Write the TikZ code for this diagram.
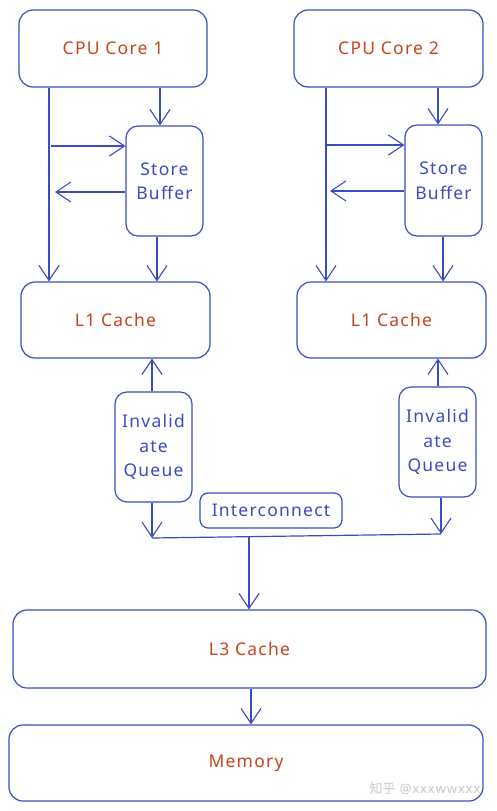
\documentclass[tikz,border=0pt]{standalone}
\usepackage{fontspec}
\setmainfont{Noto Sans}[LetterSpace=7]
\newfontfamily\cjk{Noto Sans CJK SC}
\usetikzlibrary{arrows.meta}
\definecolor{strk}{HTML}{3A4DC0}
\definecolor{redt}{HTML}{C4461C}
\definecolor{wm}{HTML}{C8C8C8}
\tikzset{
  box/.style={draw=strk, line width=1.2pt, rounded corners=14pt, inner sep=0pt, align=center,
     font=\fontsize{17.5}{20}\selectfont},
  redbox/.style={box, text=redt},
  bluebox/.style={box, text=strk, font=\fontsize{17.5}{24.5}\selectfont},
  arr/.style={draw=strk, line width=1.2pt, -{Straight Barb[length=15pt,width=20pt,line width=1.1pt]}},
  ln/.style={draw=strk, line width=1.2pt},
}
\begin{document}
\begin{tikzpicture}[x=1pt,y=-1pt]
\useasboundingbox[fill=white] (0,0) rectangle (496,811);
% boxes
\node[redbox, minimum width=188pt, minimum height=77pt] (core1) at (113,48.5) {CPU Core 1};
\node[redbox, minimum width=189pt, minimum height=77pt] (core2) at (388.5,48.5) {CPU Core 2};
\node[bluebox, minimum width=77pt, minimum height=110pt, rounded corners=12pt] (sb1) at (164.5,181) {Store\\Buffer};
\node[bluebox, minimum width=77pt, minimum height=111pt, rounded corners=12pt] (sb2) at (443.5,180.5) {Store\\Buffer};
\node[redbox, minimum width=189pt, minimum height=76pt] (l1a) at (115.5,320) {L1 Cache};
\node[redbox, minimum width=189pt, minimum height=76pt] (l1b) at (391.5,320) {L1 Cache};
\node[bluebox, minimum width=77pt, minimum height=110pt, rounded corners=12pt] (iq1) at (153.5,447) {Invalid\\ate\\Queue};
\node[bluebox, minimum width=77pt, minimum height=110pt, rounded corners=12pt] (iq2) at (437.5,442) {Invalid\\ate\\Queue};
\node[bluebox, minimum width=142pt, minimum height=35pt, rounded corners=8pt] (ic) at (271,510.5) {Interconnect};
\node[redbox, minimum width=473pt, minimum height=78pt] (l3) at (249.5,649) {L3 Cache};
\node[redbox, minimum width=474pt, minimum height=76pt] (mem) at (246,763) {Memory};
% core 1 connectors
\draw[arr] (core1.south -| 49,0) -- (l1a.north -| 49,0);
\draw[arr] (core1.south -| 160,0) -- (sb1.north -| 160,0);
\coordinate (t1) at (51,146);
\coordinate (r1) at (55,192);
\draw[arr] (t1) -- (sb1.west |- t1);
\draw[arr] (sb1.west |- r1) -- (r1);
\draw[arr] (sb1.south -| 157,0) -- (l1a.north -| 157,0);
% core 2 connectors
\draw[arr] (core2.south -| 326,0) -- (l1b.north -| 326,0);
\draw[arr] (core2.south -| 438,0) -- (sb2.north -| 438,0);
\coordinate (t2) at (327,145);
\coordinate (r2) at (330,191);
\draw[arr] (t2) -- (sb2.west |- t2);
\draw[arr] (sb2.west |- r2) -- (r2);
\draw[arr] (sb2.south -| 443,0) -- (l1b.north -| 443,0);
% invalidate queues
\draw[arr] (iq1.north -| 152,0) -- (l1a.south -| 152,0);
\draw[arr] (iq2.north -| 438,0) -- (l1b.south -| 438,0);
\coordinate (j1) at (152,538);
\coordinate (j2) at (441,534);
\coordinate (jm) at (249,536);
\draw[arr] (iq1.south -| j1) -- (j1);
\draw[arr] (iq2.south -| j2) -- (j2);
\draw[ln] (j1) -- (j2);
\draw[arr] (jm) -- (l3.north -| jm);
\draw[arr] (l3.south -| 251,0) -- (mem.north -| 251,0);
% watermark
\node[text=wm, font=\fontsize{13}{15}\selectfont, anchor=east] (wmk) at (484,789) {{\cjk 知乎} @xxxwwxxx};
\end{tikzpicture}
\end{document}
